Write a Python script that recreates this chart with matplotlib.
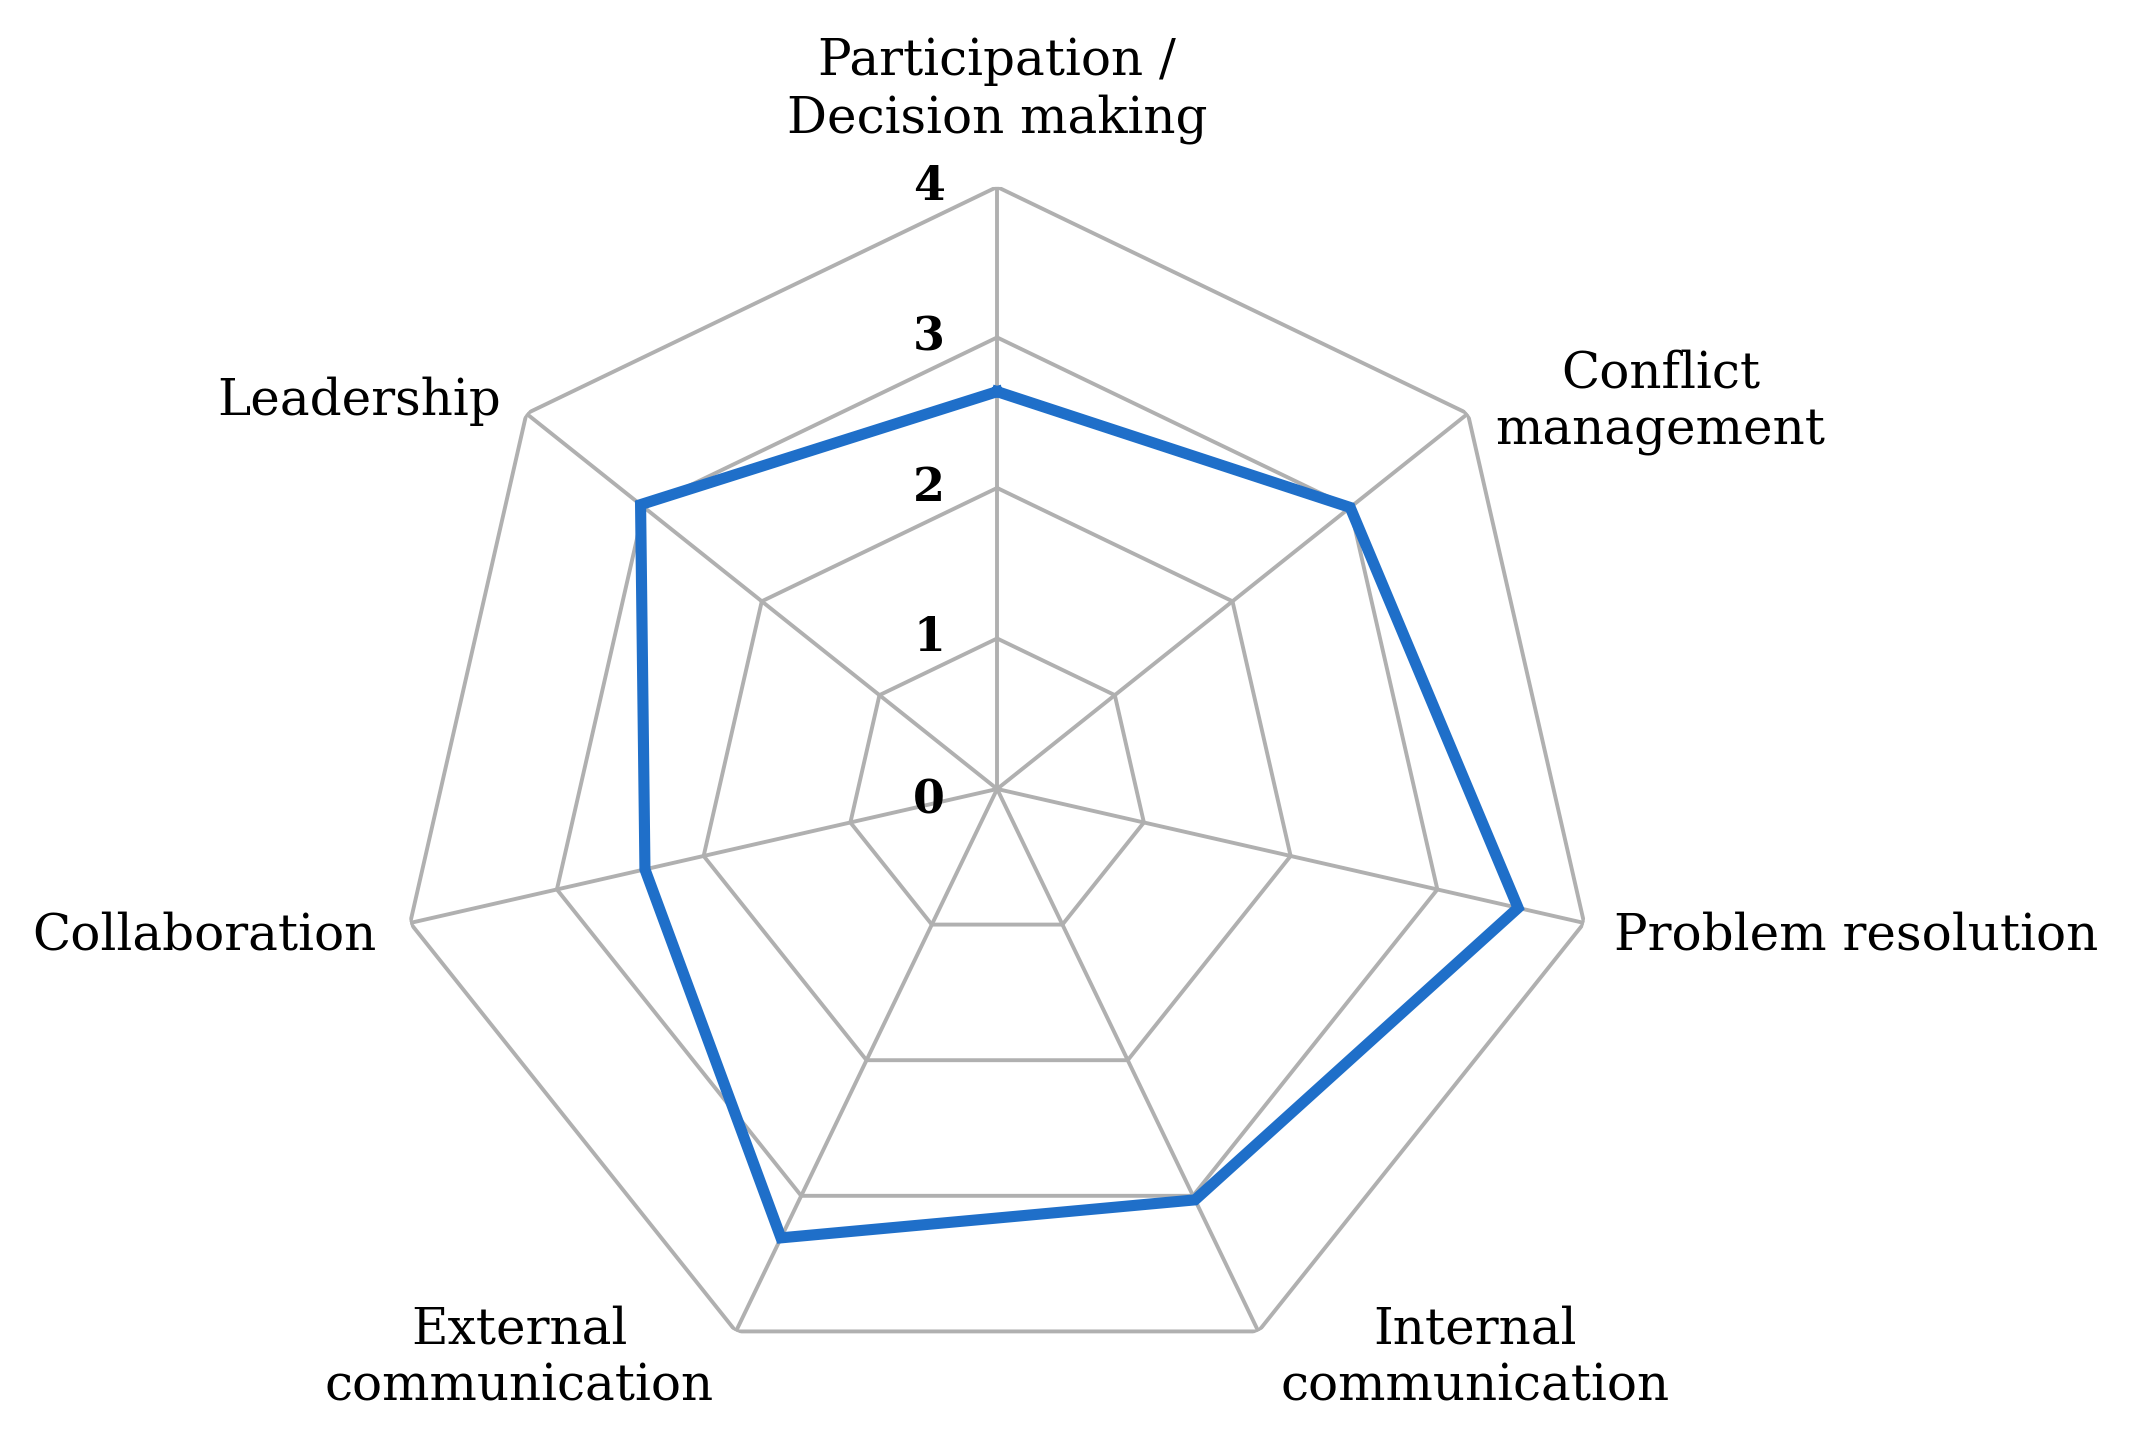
import numpy as np
import matplotlib
matplotlib.use("Agg")
import matplotlib.pyplot as plt

categories = ["Participation /\nDecision making", "Conflict\nmanagement", "Problem resolution",
              "Internal\ncommunication", "External\ncommunication", "Collaboration", "Leadership"]
values = [2.64, 3.0, 3.55, 3.03, 3.31, 2.40, 3.03]
levels = [0, 1, 2, 3, 4]

plt.rcParams['font.family'] = ['DejaVu Serif']
fig = plt.figure(figsize=(21.32, 14.49), dpi=100)
ax = fig.add_axes([0.4677 - 0.2824, 0.4555 - 0.4155, 0.5648, 0.831], projection='polar')
ax.set_theta_zero_location('N')
ax.set_theta_direction(-1)
ax.set_ylim(0, 4)
ax.axis('off')

n = len(categories)
ang = np.linspace(0, 2 * np.pi, n, endpoint=False)
angc = np.append(ang, ang[0])
grey = '#b0b0b0'
for lv in levels[1:]:
    ax.plot(angc, [lv] * (n + 1), color=grey, lw=2.8, zorder=1)
for a in ang:
    ax.plot([a, a], [0, 4], color=grey, lw=2.8, zorder=1)

vals = np.append(values, values[0])
ax.plot(angc, vals, color='#1f6fc9', lw=8, zorder=3, solid_joinstyle='miter')

for lv in levels:
    ax.annotate(str(lv), (0, lv), xytext=(-49, -8 if lv == 0 else 0), textcoords='offset points',
                ha='center', va='center', fontsize=33, fontweight='bold', zorder=4)

fs = 36
lab = [(0, 4.64, 'center'), (59.8, 5.1, 'center'), (103.4, 4.21, 'left'),
       (140, 4.94, 'center'), (220, 4.94, 'center'), (256.7, 4.24, 'right'), (308, 4.18, 'right')]
for (deg, r, ha), txt in zip(lab, categories):
    ax.text(np.deg2rad(deg), r, txt, ha=ha, va='center', fontsize=fs,
            multialignment='center', linespacing=1.2)

fig.savefig('out.png', dpi=100)
